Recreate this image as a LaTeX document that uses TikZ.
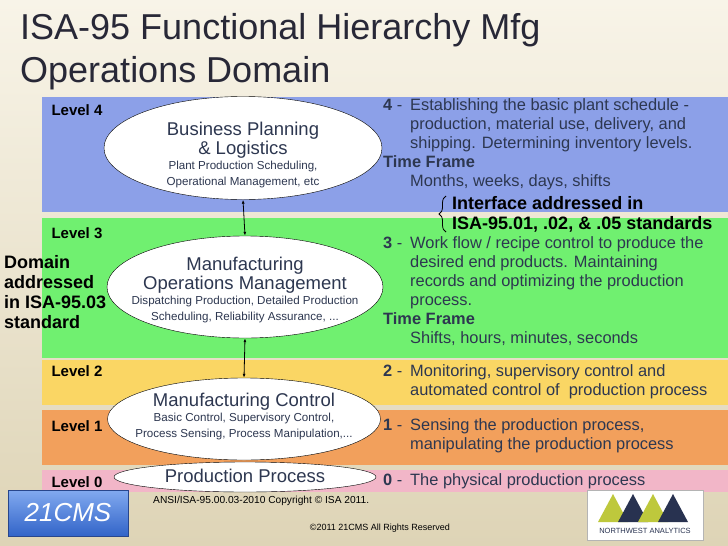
\documentclass[tikz,border=0pt]{standalone}
\usepackage{fontspec}
\setmainfont{Liberation Sans}
\usetikzlibrary{decorations.pathreplacing,arrows.meta,shapes.geometric}
\definecolor{txt}{RGB}{45,55,80}
\definecolor{ttl}{RGB}{40,40,55}
\definecolor{bgtop}{RGB}{248,244,232}
\definecolor{bgbot}{RGB}{222,212,182}
\definecolor{bandA}{RGB}{140,160,232}
\definecolor{bandB}{RGB}{112,240,112}
\definecolor{bandC}{RGB}{250,214,100}
\definecolor{bandD}{RGB}{242,160,92}
\definecolor{bandE}{RGB}{242,182,200}
\definecolor{lgtop}{RGB}{130,170,240}
\definecolor{lgbot}{RGB}{50,100,200}
\definecolor{lgedge}{RGB}{40,70,140}
\definecolor{nwgray}{RGB}{180,180,180}
\definecolor{nwy}{RGB}{190,200,60}
\definecolor{nwd}{RGB}{40,50,80}
\newcommand{\bigf}{\fontsize{18.5}{21}\selectfont}
\newcommand{\smf}{\fontsize{11.6}{16}\selectfont}
\newcommand{\nb}[1]{\makebox[27pt][l]{\textbf{#1} -}}
\newcommand{\ind}{\hspace*{27pt}}
\tikzset{
 ell/.style={ellipse,draw=black,fill=white,inner sep=0pt},
 lvl/.style={anchor=west,font=\fontsize{15}{17}\selectfont\bfseries,text=black},
 desc/.style={anchor=north west,align=left,text=txt,inner sep=0pt,font=\fontsize{16.4}{19}\selectfont},
 etext/.style={align=center,text=txt,font=\fontsize{12.5}{16}\selectfont},
 arr/.style={{Latex[length=4pt]}-{Latex[length=4pt]},thick}
}
\begin{document}
\begin{tikzpicture}[x=1pt,y=-1pt]
\useasboundingbox (0,0) rectangle (728,546);
\shade[top color=bgtop,bottom color=bgbot] (0,0) rectangle (728,546);
\node[anchor=west,inner sep=0pt,font=\fontsize{36}{40}\selectfont,text=ttl] (t1) at (20,30) {ISA-95 Functional Hierarchy Mfg};
\node[anchor=west,inner sep=0pt,font=\fontsize{36}{40}\selectfont,text=ttl] (t2) at (20,73) {Operations Domain};
\fill[bandA] (42,97) rectangle (728,212);
\fill[bandB] (42,218) rectangle (728,358);
\fill[bandC] (42,360) rectangle (728,405);
\fill[bandD] (42,410) rectangle (728,465);
\fill[bandE] (42,470) rectangle (728,492);
\node[lvl] (l4) at (48,110) {Level 4};
\node[lvl] (l3) at (48,233) {Level 3};
\node[lvl] (l2) at (48,371) {Level 2};
\node[lvl] (l1) at (48,426) {Level 1};
\node[lvl] (l0) at (48,482) {Level 0};
\node[ell,minimum width=278,minimum height=103] (bp) at (243,148) {};
\node[etext] (bpt) at (243,155) {\bigf Business Planning\\[1pt]\bigf \& Logistics\\[-1pt]\smf Plant Production Scheduling,\\[0pt]\smf Operational Management, etc};
\node[ell,minimum width=276,minimum height=102] (mom) at (245,287) {};
\node[etext] (momt) at (245,290) {\bigf Manufacturing\\[1pt]\bigf Operations Management\\[-1pt]\smf Dispatching Production, Detailed Production\\[0pt]\smf Scheduling, Reliability Assurance, ...};
\node[ell,minimum width=273,minimum height=82] (mc) at (244,419) {};
\node[etext] (mct) at (244,416) {\bigf Manufacturing Control\\[-1pt]\smf Basic Control, Supervisory Control,\\[0pt]\smf Process Sensing, Process Manipulation,...};
\node[ell,minimum width=262,minimum height=30] (pp) at (245,477) {};
\node[text=txt,font=\bigf] (ppt) at (245,476) {Production Process};
\draw[arr] (bp.south) -- (mom.north);
\draw[arr] (mom.south) -- (mc.north);
\node[anchor=north west,inner sep=0pt,align=left,font=\fontsize{18}{20}\selectfont\bfseries] (dom) at (4,255) {Domain\\addressed\\in ISA-95.03\\standard};
\node[desc] (d4) at (383,98) {\nb{4}Establishing the basic plant schedule -\\\ind production, material use, delivery, and\\\ind shipping. Determining inventory levels.\\\textbf{Time Frame}\\\ind Months, weeks, days, shifts};
\node[desc] (d3) at (383,236) {\nb{3}Work flow / recipe control to produce the\\\ind desired end products. Maintaining\\\ind records and optimizing the production\\\ind process.\\\textbf{Time Frame}\\\ind Shifts, hours, minutes, seconds};
\node[desc] (d2) at (383,364) {\nb{2}Monitoring, supervisory control and\\\ind automated control of\ \ production process};
\node[desc] (d1) at (383,418) {\nb{1}Sensing the production process,\\\ind manipulating the production process};
\node[desc] (d0) at (383,473) {\nb{0}The physical production process};
\coordinate (b1) at (446,232);
\coordinate (b2) at (446,196);
\draw[thick,decorate,decoration={brace,amplitude=7pt}] (b1) -- (b2);
\node[anchor=north west,inner sep=0pt,align=left,font=\fontsize{18}{20}\selectfont\bfseries] (itf) at (452,196) {Interface addressed in\\ISA-95.01, .02, \& .05 standards};
\node[anchor=west,inner sep=0pt,font=\fontsize{10.2}{11}\selectfont] (cp1) at (153,501) {ANSI/ISA-95.00.03-2010 Copyright © ISA 2011.};
\node[font=\fontsize{9}{10}\selectfont] (cp2) at (380,528) {©2011 21CMS All Rights Reserved};
\shade[top color=lgtop,bottom color=lgbot,draw=lgedge] (8,490) rectangle (128,536);
\node[text=white,font=\fontsize{26}{28}\selectfont\itshape] (logo1) at (68,513) {21CMS};
\filldraw[fill=white,draw=nwgray] (587,490) rectangle (703,540);
\fill[nwy] (598,522) -- (613,494) -- (628,522) -- cycle;
\fill[nwd] (618,522) -- (633,494) -- (648,522) -- cycle;
\fill[nwy] (638,522) -- (653,494) -- (668,522) -- cycle;
\fill[nwd] (658,522) -- (673,494) -- (688,522) -- cycle;
\node[font=\fontsize{7.5}{8}\selectfont,text=nwd] (logo2) at (645,531) {NORTHWEST ANALYTICS};
\end{tikzpicture}
\end{document}
